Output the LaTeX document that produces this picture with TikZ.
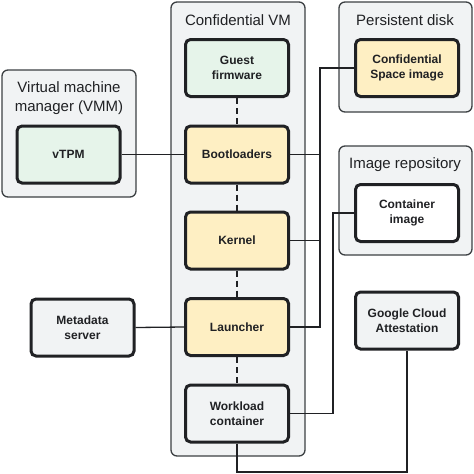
\documentclass[tikz,border=0pt]{standalone}
\usepackage{fontspec}
\setmainfont{Liberation Sans}
\definecolor{ink}{HTML}{202124}
\definecolor{edge}{HTML}{3C4043}
\definecolor{greenf}{HTML}{E6F4EA}
\definecolor{yellowf}{HTML}{FEEFC3}
\definecolor{grayf}{HTML}{F1F3F4}
\tikzset{
  group/.style={draw=edge, line width=1.3pt, fill=grayf, rounded corners=6pt},
  grouptitle/.style={font=\fontsize{15}{19}\selectfont, text=ink, align=center, inner sep=0pt},
  box/.style={draw=ink, line width=3pt, rounded corners=5pt, minimum width=103pt, minimum height=57pt,
    align=center, font=\fontsize{12}{15}\selectfont\bfseries, text=ink, inner sep=0pt},
  greenbox/.style={box, fill=greenf},
  yellowbox/.style={box, fill=yellowf},
  graybox/.style={box, fill=grayf},
  whitebox/.style={box, fill=white},
  link/.style={draw=ink, line width=1.3pt},
  chain/.style={draw=ink, line width=2pt, dash pattern=on 6pt off 4pt}
}
\begin{document}
\begin{tikzpicture}[x=1pt, y=-1pt]
\useasboundingbox (0,0) rectangle (474,474);
% groups
\draw[group] (171,2) rectangle (305,456);
\draw[group] (2,70) rectangle (136,197);
\draw[group] (339,2) rectangle (472,112);
\draw[group] (339,146) rectangle (472,255);
\node[grouptitle] (tcvm) at (238,20) {Confidential VM};
\node[grouptitle] (tvmm) at (69,98) {Virtual machine\\manager (VMM)};
\node[grouptitle] (tpd) at (405,20) {Persistent disk};
\node[grouptitle] (tir) at (405,165) {Image repository};
% boxes
\node[greenbox] (fw) at (237,68) {Guest\\firmware};
\node[yellowbox] (boot) at (237,154.5) {Bootloaders};
\node[yellowbox] (kern) at (237,240.5) {Kernel};
\node[yellowbox] (launch) at (237,327) {Launcher};
\node[graybox] (work) at (237,413.5) {Workload\\container};
\node[greenbox] (vtpm) at (68.5,154.5) {vTPM};
\node[graybox] (meta) at (82.5,327.5) {Metadata\\server};
\node[yellowbox] (csimg) at (407,68) {Confidential\\Space image};
\node[whitebox] (cimg) at (407,213) {Container\\image};
\node[graybox] (gca) at (407,320.5) {Google Cloud\\Attestation};
% helper coordinates
\coordinate (tx) at (320,0);
\coordinate (ty) at (333,0);
\coordinate (bot) at (0,472);
% connectors
\draw[chain] (fw.south) -- (boot.north);
\draw[chain] (boot.south) -- (kern.north);
\draw[chain] (kern.south) -- (launch.north);
\draw[chain] (launch.south) -- (work.north);
\draw[link] (vtpm.east) -- (boot.west);
\draw[link] (meta.east) -- (launch.west);
\draw[link] (csimg.west) -- (csimg.west -| tx) -- (launch.east -| tx) -- (launch.east);
\draw[link] (boot.east) -- (boot.east -| tx);
\draw[link] (kern.east) -- (kern.east -| tx);
\draw[link] (cimg.west) -- (cimg.west -| ty) -- (work.east -| ty) -- (work.east);
\draw[link] (work.south) -- (work.south |- bot) -| (gca.south);
\end{tikzpicture}
\end{document}
